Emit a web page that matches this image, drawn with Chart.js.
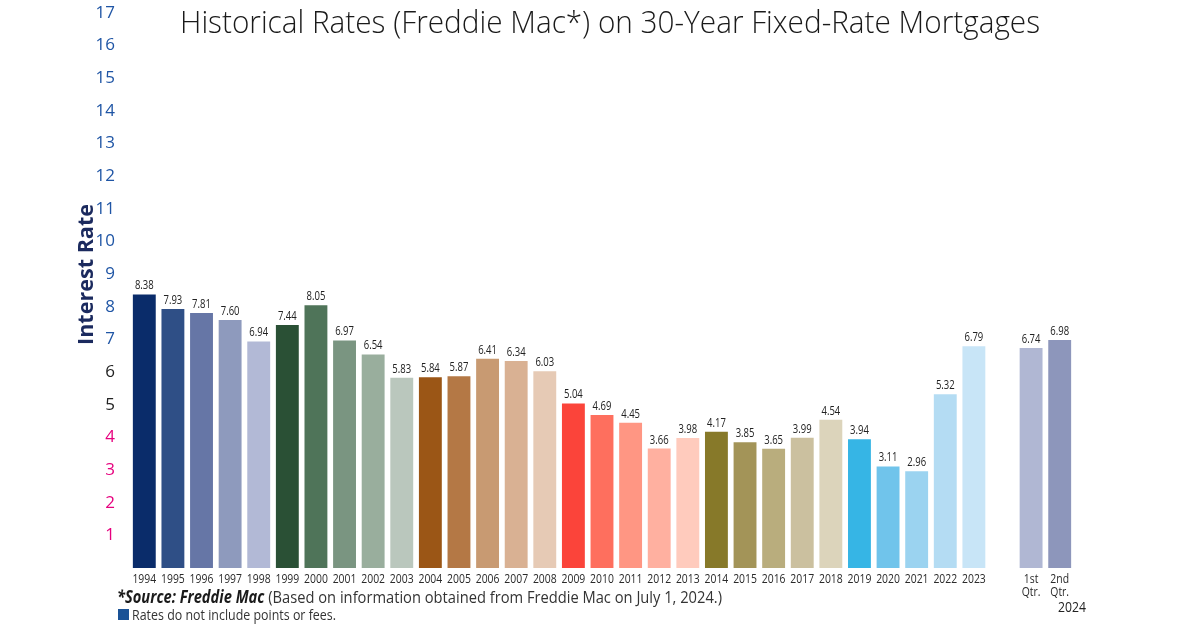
<!DOCTYPE html>
<html lang="en">
<head>
    <meta charset="UTF-8">
    <title>Historical Rates (Freddie Mac*) on 30-Year Fixed-Rate Mortgages</title>
    <script src="https://cdn.jsdelivr.net/npm/chart.js"></script>
    <style>
        html, body { margin: 0; padding: 0; background: #fff; }
        .chart-container { position: relative; width: 1200px; height: 630px; }
    </style>
</head>
<body>
    <div class="chart-container">
        <canvas id="ratesChart"></canvas>
    </div>

    <script>
        // Data
        const categories = ['1994', '1995', '1996', '1997', '1998', '1999', '2000', '2001', '2002', '2003',
            '2004', '2005', '2006', '2007', '2008', '2009', '2010', '2011', '2012', '2013',
            '2014', '2015', '2016', '2017', '2018', '2019', '2020', '2021', '2022', '2023',
            '', ['1st', 'Qtr.'], ['2nd', 'Qtr.']];
        const rates = [8.38, 7.93, 7.81, 7.60, 6.94, 7.44, 8.05, 6.97, 6.54, 5.83,
            5.84, 5.87, 6.41, 6.34, 6.03, 5.04, 4.69, 4.45, 3.66, 3.98,
            4.17, 3.85, 3.65, 3.99, 4.54, 3.94, 3.11, 2.96, 5.32, 6.79,
            null, 6.74, 6.98];
        const barColors = ['#0a2c6a', '#2f4f86', '#6676a6', '#8e9abd', '#b2b9d6',
            '#2a5035', '#4f7459', '#7a9581', '#99ae9d', '#bac7bd',
            '#9b5616', '#b47845', '#c89a72', '#d9b193', '#e6cab5',
            '#fb443a', '#fe6f5e', '#ff9683', '#ffb0a0', '#ffcbbd',
            '#877929', '#a39458', '#b9ad7d', '#cbc09f', '#dcd4bb',
            '#36b5e5', '#70c4eb', '#9bd3f0', '#b4dcf3', '#c8e5f7',
            '#ffffff', '#b0b7d3', '#8d96bb'];
        const yTicks = [1, 2, 3, 4, 5, 6, 7, 8, 9, 10, 11, 12, 13, 14, 15, 16, 17];

        const sans = "'Open Sans', 'Noto Sans', sans-serif";

        function tickColor(v) {
            if (v <= 4) return '#e6007e';
            if (v <= 6) return '#222222';
            return '#1f55a5';
        }

        // draws text pieces one after another, squeezed to a given width
        function drawSqueezed(ctx, parts, x, y, width) {
            let total = 0;
            parts.forEach(p => { ctx.font = p.font; total += ctx.measureText(p.text).width; });
            const sx = width / total;
            ctx.save();
            ctx.translate(x, y);
            ctx.scale(sx, 1);
            let cx = 0;
            parts.forEach(p => {
                ctx.font = p.font;
                ctx.fillStyle = p.color;
                ctx.fillText(p.text, cx, 0);
                cx += ctx.measureText(p.text).width;
            });
            ctx.restore();
        }

        // condensed, centred text (the original uses a narrow face)
        function drawNarrow(ctx, text, x, y, sx) {
            ctx.save();
            ctx.translate(x, y);
            ctx.scale(sx, 1);
            ctx.textAlign = 'center';
            ctx.fillText(text, 0, 0);
            ctx.restore();
        }

        const decorations = {
            id: 'decorations',
            afterDatasetsDraw(chart) {
                const ctx = chart.ctx;
                const meta = chart.getDatasetMeta(0);
                const xs = chart.scales.x;

                ctx.save();
                ctx.textBaseline = 'alphabetic';
                // value labels on top of bars
                ctx.font = '12.5px ' + sans;
                ctx.fillStyle = '#222';
                meta.data.forEach((bar, i) => {
                    if (rates[i] == null) return;
                    drawNarrow(ctx, rates[i].toFixed(2), bar.x, bar.y - 5, 0.76);
                });

                // category labels
                ctx.font = '13px ' + sans;
                ctx.fillStyle = '#2a2a2a';
                categories.forEach((lab, i) => {
                    const x = xs.getPixelForValue(i);
                    const lines = Array.isArray(lab) ? lab : [lab];
                    lines.forEach((t, k) => drawNarrow(ctx, t, x, 583 + k * 13, 0.8));
                });
                ctx.restore();
            },
            afterDraw(chart) {
                const ctx = chart.ctx;
                ctx.save();
                ctx.textBaseline = 'alphabetic';

                // title
                drawSqueezed(ctx, [{ text: 'Historical Rates (Freddie Mac*) on 30-Year Fixed-Rate Mortgages',
                    font: '300 31px ' + sans, color: '#1a1a1a' }], 180, 33, 860);

                // axis title
                ctx.save();
                ctx.translate(93, 345);
                ctx.rotate(-Math.PI / 2);
                drawSqueezed(ctx, [{ text: 'Interest Rate', font: 'bold 21px ' + sans, color: '#1b2a5e' }], 0, 0, 141);
                ctx.restore();

                // footnotes
                drawSqueezed(ctx, [
                    { text: '*Source: Freddie Mac', font: 'italic bold 17px ' + sans, color: '#1a1a1a' },
                    { text: ' (Based on information obtained from Freddie Mac on July 1, 2024.)', font: '17px ' + sans, color: '#333' }
                ], 117, 603, 605);

                ctx.fillStyle = '#1a5296';
                ctx.fillRect(118, 609, 11, 11);
                drawSqueezed(ctx, [{ text: 'Rates do not include points or fees.', font: '15px ' + sans, color: '#333' }], 132, 620, 204);

                // year under the quarters
                drawSqueezed(ctx, [{ text: '2024', font: '15px ' + sans, color: '#222' }], 1058, 612, 28);
                ctx.restore();
            }
        };

        new Chart(document.getElementById('ratesChart'), {
            type: 'bar',
            data: {
                labels: categories,
                datasets: [{
                    data: rates,
                    backgroundColor: barColors,
                    borderWidth: 0,
                    barPercentage: 0.8,
                    categoryPercentage: 1.0
                }]
            },
            options: {
                responsive: true,
                maintainAspectRatio: false,
                animation: false,
                layout: { padding: { top: 13, right: 126, bottom: 22, left: 0 } },
                plugins: {
                    legend: { display: false },
                    tooltip: { enabled: false },
                    title: { display: false }
                },
                scales: {
                    x: {
                        grid: { display: false, drawTicks: false },
                        border: { display: false },
                        ticks: { display: false, autoSkip: false },
                        afterFit: s => { s.height = 40; s.paddingLeft = 0; s.paddingRight = 0; }
                    },
                    y: {
                        min: 0,
                        max: 17,
                        grid: { display: false, drawTicks: false },
                        border: { display: false },
                        afterBuildTicks: s => { s.ticks = yTicks.map(v => ({ value: v })); },
                        afterFit: s => { s.width = 130; s.paddingTop = 0; s.paddingBottom = 0; },
                        ticks: {
                            padding: 15,
                            color: c => tickColor(c.tick.value),
                            font: { family: sans, size: 17 }
                        }
                    }
                }
            },
            plugins: [decorations]
        });
    </script>
</body>
</html>
